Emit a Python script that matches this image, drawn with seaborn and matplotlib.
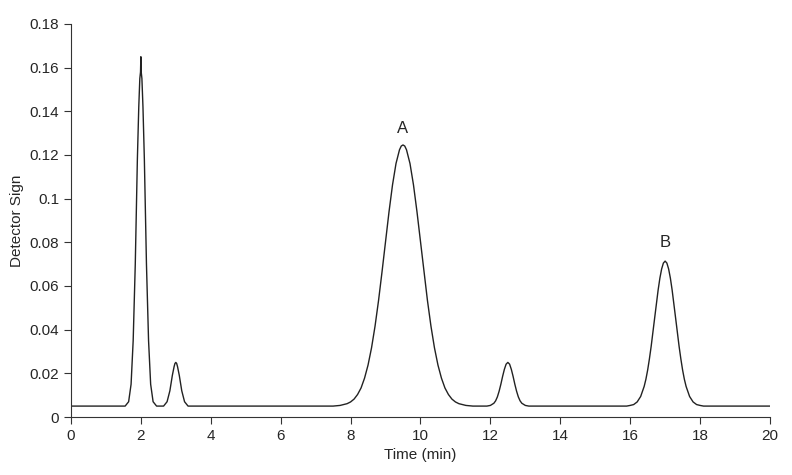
#!/usr/bin/env python3
"""Chromatogram: detector signal vs. time, peaks A and B labelled."""
import pandas as pd
import seaborn as sns
import matplotlib
matplotlib.use("Agg")
import matplotlib.pyplot as plt
from matplotlib.ticker import FuncFormatter, MultipleLocator

# Points, one list pair per peak region (min, signal)
peak1_time = [0.0, 1.55, 1.65, 1.72, 1.78, 1.84, 1.90, 1.94, 1.97, 1.99, 2.00, 2.01, 2.03, 2.06, 2.10, 2.16, 2.22, 2.28, 2.35, 2.45]
peak1_signal = [0.005, 0.005, 0.007, 0.015, 0.035, 0.070, 0.118, 0.142, 0.155, 0.158, 0.165, 0.158, 0.155, 0.142, 0.118, 0.070, 0.035, 0.015, 0.007, 0.005]

peak2_time = [2.65, 2.75, 2.83, 2.90, 2.95, 2.975, 3.00, 3.025, 3.05, 3.10, 3.17, 3.25, 3.35]
peak2_signal = [0.005, 0.007, 0.012, 0.019, 0.023, 0.0245, 0.025, 0.0245, 0.023, 0.019, 0.012, 0.007, 0.005]

peakA_time = [7.5, 7.7, 7.9, 8.0, 8.1, 8.2, 8.3, 8.4, 8.5, 8.6, 8.7, 8.8, 8.9, 9.0, 9.1, 9.2, 9.3, 9.4, 9.45, 9.5,
              9.55, 9.6, 9.7, 9.8, 9.9, 10.0, 10.1, 10.2, 10.3, 10.4, 10.5, 10.6, 10.7, 10.8, 10.9, 11.0, 11.1, 11.3, 11.5]
peakA_signal = [0.005, 0.0053, 0.0061, 0.0069, 0.0082, 0.0103, 0.0133, 0.0178, 0.0238, 0.0317, 0.0416, 0.0533, 0.0665,
                0.0803, 0.0940, 0.1063, 0.1161, 0.1224, 0.1241, 0.1246,
                0.1241, 0.1224, 0.1161, 0.1063, 0.0940, 0.0803, 0.0665, 0.0533, 0.0416, 0.0317, 0.0238, 0.0178,
                0.0133, 0.0103, 0.0082, 0.0069, 0.0061, 0.0053, 0.005]

peak3_time = [11.9, 12.0, 12.1, 12.15, 12.2, 12.25, 12.3, 12.35, 12.4, 12.45, 12.5,
              12.55, 12.6, 12.65, 12.7, 12.75, 12.8, 12.85, 12.9, 13.0, 13.1]
peak3_signal = [0.005, 0.0053, 0.0063, 0.0074, 0.0092, 0.0118, 0.015, 0.0186, 0.0218, 0.0242, 0.025,
                0.0242, 0.0218, 0.0186, 0.015, 0.0118, 0.0092, 0.0074, 0.0063, 0.0053, 0.005]

peakB_time = [15.9, 16.0, 16.1, 16.2, 16.3, 16.4, 16.45, 16.5, 16.55, 16.6, 16.65, 16.7, 16.75, 16.8, 16.85, 16.9, 16.95, 17.0,
              17.05, 17.1, 17.15, 17.2, 17.25, 17.3, 17.35, 17.4, 17.45, 17.5, 17.55, 17.6, 17.7, 17.8, 17.9, 18.0, 18.1, 20.0]
peakB_signal = [0.005, 0.0053, 0.0057, 0.0069, 0.0094, 0.014, 0.0173, 0.0215, 0.0266, 0.0323, 0.0386, 0.0453, 0.0519,
                0.0582, 0.0636, 0.0678, 0.0705, 0.0714,
                0.0705, 0.0678, 0.0636, 0.0582, 0.0519, 0.0453, 0.0386, 0.0323, 0.0266, 0.0215, 0.0173, 0.014,
                0.0094, 0.0069, 0.0057, 0.0053, 0.005, 0.005]

peak_labels = ["A", "B"]
label_time = [9.5, 17.0]
label_signal = [0.132, 0.080]

df = pd.DataFrame({
    "time": peak1_time + peak2_time + peakA_time + peak3_time + peakB_time,
    "signal": peak1_signal + peak2_signal + peakA_signal + peak3_signal + peakB_signal,
})

sns.set_style("ticks")
plt.rcParams["font.family"] = ["Liberation Sans", "DejaVu Sans"]

fig = plt.figure(figsize=(7.92, 4.75), dpi=100)
ax = fig.add_axes([0.0896, 0.1221, 0.8826, 0.8274])

sns.lineplot(data=df, x="time", y="signal", estimator=None, sort=False,
             color="#222222", linewidth=1.0, ax=ax)

for lab, t, s in zip(peak_labels, label_time, label_signal):
    ax.text(t, s, lab, ha="center", va="center", fontsize=12)

ax.set_xlim(0, 20)
ax.set_ylim(0, 0.18)
ax.xaxis.set_major_locator(MultipleLocator(2))
ax.yaxis.set_major_locator(MultipleLocator(0.02))
ax.yaxis.set_major_formatter(FuncFormatter(lambda v, p: f"{v:.2f}".rstrip("0").rstrip(".") if v else "0"))
ax.tick_params(axis="both", labelsize=11, length=5, width=0.8, color="#333333", direction="out")
ax.set_xlabel("Time (min)", fontsize=11)
ax.set_ylabel("Detector Sign", fontsize=11)
sns.despine(ax=ax)
for side in ("left", "bottom"):
    ax.spines[side].set_color("#333333")
    ax.spines[side].set_linewidth(0.8)

plt.savefig("out.png", dpi=100)
plt.close()
